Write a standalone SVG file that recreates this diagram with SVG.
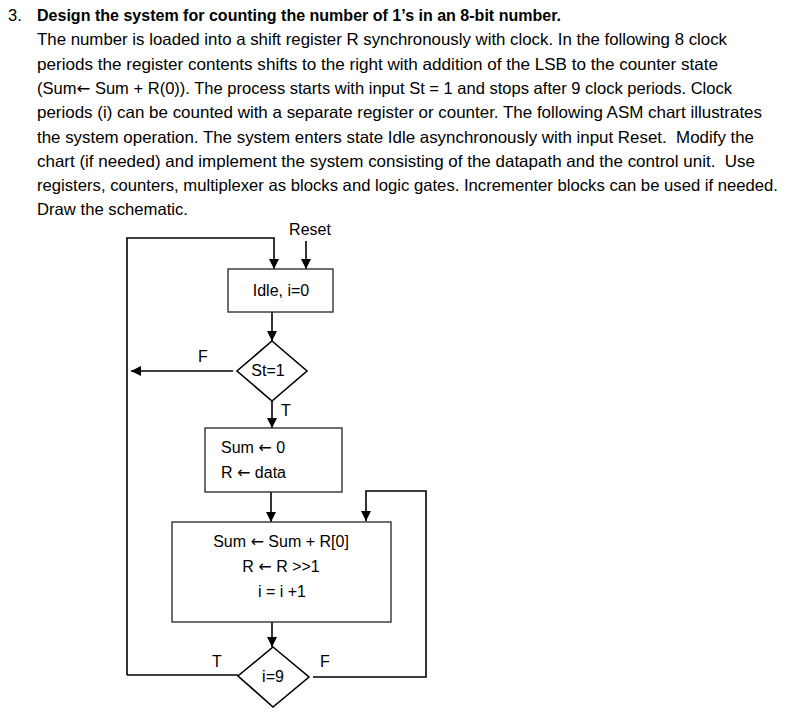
<svg xmlns="http://www.w3.org/2000/svg" width="795" height="727" viewBox="0 0 795 727">
<style>
.p{font-family:"Liberation Sans",Arial,sans-serif;font-size:16.5px;fill:#000}
.b{font-weight:bold}
.t{font-family:"Liberation Sans",Arial,sans-serif;font-size:16px;fill:#000}
.ar{font-family:"DejaVu Sans",sans-serif}
.box{fill:#fff;stroke:#333;stroke-width:1.4}
.dia{fill:#fff;stroke:#000;stroke-width:1.6}
.ln{fill:none;stroke:#000;stroke-width:1.6}
</style>
<defs>
<marker id="ah" viewBox="0 0 10 10" refX="10" refY="5" markerWidth="10" markerHeight="10" markerUnits="userSpaceOnUse" orient="auto">
<path d="M0,0 L10,5 L0,10 Z" fill="#000"/>
</marker>
</defs>
<rect width="795" height="727" fill="#fff"/>
<g id="question">
<text class="p" x="8" y="21">3.</text>
<text class="p b" x="37" y="21" textLength="524" lengthAdjust="spacingAndGlyphs">Design the system for counting the number of 1’s in an 8-bit number.</text>
<text class="p" x="37" y="45" textLength="690" lengthAdjust="spacingAndGlyphs">The number is loaded into a shift register R synchronously with clock. In the following 8 clock</text>
<text class="p" x="37" y="69.5" textLength="681" lengthAdjust="spacingAndGlyphs">periods the register contents shifts to the right with addition of the LSB to the counter state</text>
<text class="p" x="37" y="94" textLength="695" lengthAdjust="spacingAndGlyphs">(Sum<tspan class="ar">←</tspan> Sum + R(0)). The process starts with input St = 1 and stops after 9 clock periods. Clock</text>
<text class="p" x="37" y="118" textLength="725" lengthAdjust="spacingAndGlyphs">periods (i) can be counted with a separate register or counter. The following ASM chart illustrates</text>
<text class="p" x="37" y="142.5" textLength="717" lengthAdjust="spacingAndGlyphs" xml:space="preserve">the system operation. The system enters state Idle asynchronously with input Reset.  Modify the</text>
<text class="p" x="37" y="167" textLength="718" lengthAdjust="spacingAndGlyphs" xml:space="preserve">chart (if needed) and implement the system consisting of the datapath and the control unit.  Use</text>
<text class="p" x="37" y="191" textLength="741" lengthAdjust="spacingAndGlyphs">registers, counters, multiplexer as blocks and logic gates. Incrementer blocks can be used if needed.</text>
<text class="p" x="37" y="215" textLength="151" lengthAdjust="spacingAndGlyphs">Draw the schematic.</text>
</g>
<g id="connectors">
<path class="ln" d="M306,241 V269" marker-end="url(#ah)"/>
<path class="ln" d="M127,675 V238 H274 V269" marker-end="url(#ah)"/>
<path class="ln" d="M272,312 V341" marker-end="url(#ah)"/>
<path class="ln" d="M233,371 H131" marker-end="url(#ah)"/>
<path class="ln" d="M272,401 V428" marker-end="url(#ah)"/>
<path class="ln" d="M271,492 V522" marker-end="url(#ah)"/>
<path class="ln" d="M272,622 V647" marker-end="url(#ah)"/>
<path class="ln" d="M238,675 H127"/>
<path class="ln" d="M313,677 H426 V491 H366 V521" marker-end="url(#ah)"/>
<text class="t" x="203" y="362" text-anchor="middle">F</text>
<text class="t" x="286" y="416" text-anchor="middle">T</text>
<text class="t" x="217" y="667" text-anchor="middle">T</text>
<text class="t" x="325" y="667" text-anchor="middle">F</text>
<text class="t" x="310" y="235" text-anchor="middle">Reset</text>
</g>
<g id="idle">
<rect class="box" x="228" y="269" width="105" height="43"/>
<text class="t" x="281" y="296" text-anchor="middle">Idle, i=0</text>
</g>
<g id="st">
<path class="dia" d="M272,341 L307,371 L272,401 L237,371 Z"/>
<text class="t" x="268" y="376" text-anchor="middle">St=1</text>
</g>
<g id="init">
<rect class="box" x="205" y="428" width="137" height="64"/>
<text class="t" x="221" y="453">Sum <tspan class="ar">←</tspan> 0</text>
<text class="t" x="221" y="478">R <tspan class="ar">←</tspan> data</text>
</g>
<g id="shift">
<rect class="box" x="172" y="522" width="219" height="100"/>
<text class="t" x="281" y="547" text-anchor="middle">Sum <tspan class="ar">←</tspan> Sum + R[0]</text>
<text class="t" x="281" y="572" text-anchor="middle">R <tspan class="ar">←</tspan> R &gt;&gt;1</text>
<text class="t" x="282" y="597" text-anchor="middle">i = i +1</text>
</g>
<g id="i9">
<path class="dia" d="M273,647 L309,677 L273,707 L238,676 Z"/>
<text class="t" x="273" y="682" text-anchor="middle">i=9</text>
</g>
</svg>
